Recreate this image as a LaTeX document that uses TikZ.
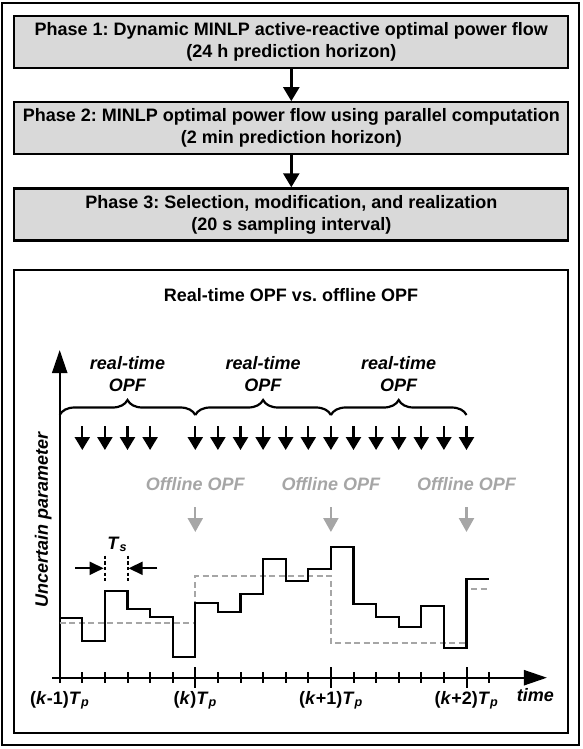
\documentclass[tikz,border=0pt]{standalone}
\usepackage{fontspec}
\setmainfont{Liberation Sans}
\usepackage{xcolor}
\definecolor{boxFill}{HTML}{D9D9D9}
\definecolor{offGray}{HTML}{A6A6A6}
\usepackage{tikz}
\usetikzlibrary{arrows.meta, positioning, decorations.pathreplacing}
\frenchspacing

\begin{document}
\begin{tikzpicture}[
  x=1pt, y=-1pt,
  font=\fontsize{18}{22}\selectfont\bfseries,
  node distance=32pt,
  every node/.style={align=center},
  phase/.style={rectangle, draw, fill=boxFill, line width=2.2pt, inner sep=0pt,
    minimum width=554pt, minimum height=52pt},
  panel/.style={rectangle, draw, line width=2.2pt, inner sep=0pt,
    minimum width=554pt, minimum height=463pt},
  arrow/.style={-{Triangle[length=14pt, width=16pt]}, line width=2.5pt},
  axis/.style={-{Triangle[length=23pt, width=15pt]}, line width=2.3pt},
  tickmark/.style={line width=2pt},
  rtarrow/.style={-{Triangle[length=13pt, width=15pt]}, line width=2.3pt},
  offarrow/.style={-{Triangle[length=14pt, width=15pt]}, line width=2.3pt, color=offGray},
  offtext/.style={font=\fontsize{18}{22}\selectfont\bfseries\itshape, text=offGray},
  rtbrace/.style={decorate, decoration={brace, amplitude=15pt}, line width=2.2pt},
  signal/.style={line width=2.3pt},
  offline/.style={line width=2.2pt, color=offGray, dash pattern=on 6pt off 3.5pt},
  dotline/.style={line width=2pt, dash pattern=on 3.3pt off 2.3pt},
  tsarrow/.style={-{Triangle[length=14pt, width=13pt]}, line width=2pt},
]
  \useasboundingbox (0,0) rectangle (582,749);
  \draw[line width=2pt] (2,2.7) rectangle (579,745);

  % three phases
  \node[phase] (p1) at (291.3,42) {Phase 1: Dynamic MINLP active-reactive optimal power flow\\(24 h prediction horizon)};
  \node[phase, below=of p1] (p2) {Phase 2: MINLP optimal power flow using parallel computation\\(2 min prediction horizon)};
  \node[phase, below=of p2] (p3) {Phase 3: Selection, modification, and realization\\(20 s sampling interval)};
  \draw[arrow] (p1) -- (p2);
  \draw[arrow] (p2) -- (p3);

  % comparison panel
  \node[panel] (panel) at (291.3,501.3) {};
  \node[anchor=base] (title) at (291,301.7) {Real-time OPF vs. offline OPF};

  \begin{scope}[xshift=59.7pt, x=22.6pt]
    \coordinate (origin) at (0,677.7);
    \coordinate (tend) at (21.56,677.7);
    \coordinate (ytop) at (0,350);
    \draw[axis] (-0.34,677.7) -- (tend);
    \draw[axis] (0,683) -- (ytop);
    \foreach \n in {1,...,19}
      \draw[tickmark] (\n,672) -- (\n,683);
    \foreach \n in {6,12,18}
      \draw[tickmark] (\n,667) -- (\n,688);

    \node[anchor=base] (t0) at (0,704) {(\textit{k}-1)\textit{T}\textsubscript{\textit{p}}};
    \node[anchor=base] (t6) at (6,704) {(\textit{k})\textit{T}\textsubscript{\textit{p}}};
    \node[anchor=base] (t12) at (12,704) {(\textit{k}+1)\textit{T}\textsubscript{\textit{p}}};
    \node[anchor=base] (t18) at (18,704) {(\textit{k}+2)\textit{T}\textsubscript{\textit{p}}};
    \node[anchor=base] (time) at (21.05,701.5) {\textit{time}};
    \node[rotate=90, anchor=base] (ylabel) at (-0.52,520) {\textit{Uncertain parameter}};

    % real-time OPF windows
    \foreach \a/\b in {0/6, 6/12, 12/18} {
      \draw[rtbrace] (\a,415) -- (\b,415);
      \node (rt\a) at ({(\a+\b)/2},374.5) {\textit{real-time}\\\textit{OPF}};
    }
    \foreach \n in {1,...,4,6,7,...,18}
      \draw[rtarrow] (\n,426) -- (\n,450);

    % offline OPF
    \foreach \n in {6,12,18} {
      \node[offtext, anchor=base] (off\n) at (\n,490.5) {Offline OPF};
      \draw[offarrow] (\n,507) -- (\n,532);
    }

    % sampling interval
    \coordinate (ts1) at (2,568.3);
    \coordinate (ts2) at (3,568.3);
    \draw[dotline] (2,555.7) -- (2,580.7);
    \draw[dotline] (3,555.7) -- (3,580.7);
    \draw[tsarrow] (0.68,568.3) -- ([xshift=-1.3pt]ts1);
    \draw[tsarrow] (4.32,568.3) -- ([xshift=1.1pt]ts2);
    \node[anchor=base] (tslabel) at (2.55,549) {\textit{T}\textsubscript{\textit{s}}};

    % offline set-point and real signal
    \draw[offline] (0,623) -| (6,576) -| (12,643) -| (18,589) -- (19,589);
    \draw[signal] (0,618) -| (1,641) -| (2,591) -| (3,609) -| (4,617) -| (5,657)
      -| (6,603) -| (7,612) -| (8,594) -| (9,559) -| (10,581) -| (11,569)
      -| (12,547) -| (13,604) -| (14,617) -| (15,627) -| (16,606) -| (17,648)
      -| (18,579) -- (19,579);
  \end{scope}
\end{tikzpicture}
\end{document}
